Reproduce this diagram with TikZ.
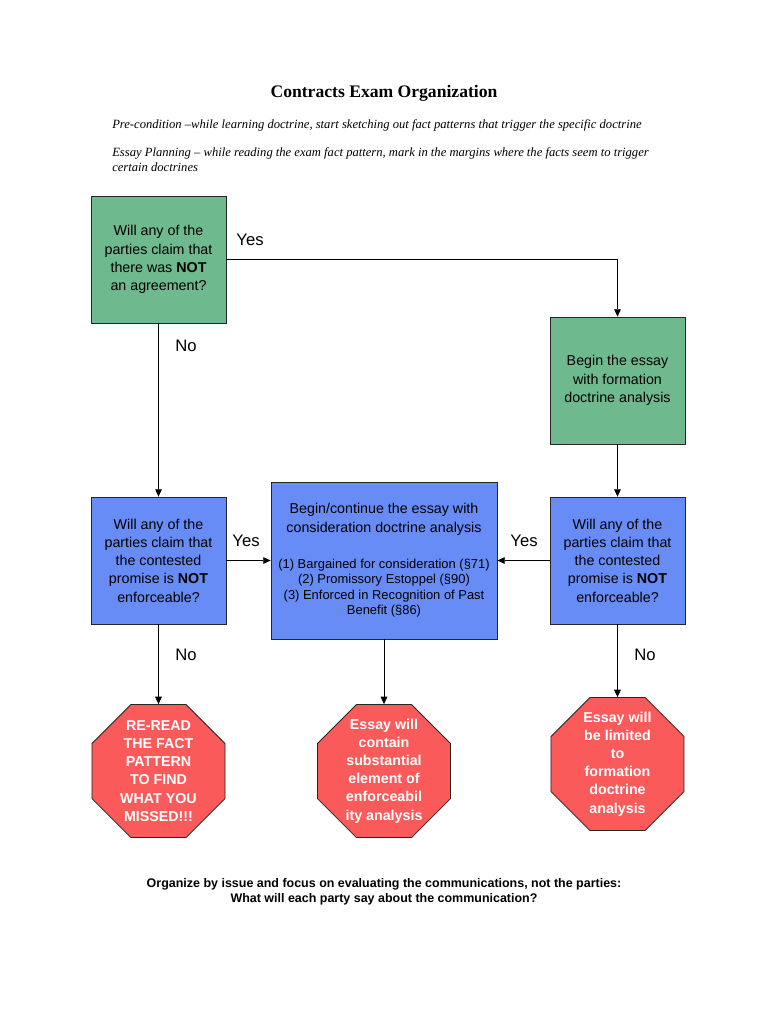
\documentclass[tikz,border=0pt]{standalone}
\usepackage{fontspec}
\setmainfont{Liberation Serif}
\setsansfont{Liberation Sans}
\usetikzlibrary{arrows.meta,shapes.geometric}
\definecolor{formgreen}{RGB}{110,185,142}
\definecolor{enfblue}{RGB}{104,140,245}
\definecolor{stopred}{RGB}{250,90,90}
\newcommand{\lstfont}{\fontsize{9.7}{11.6}\selectfont}

\begin{document}
\begin{tikzpicture}[x=0.75pt, y=-0.75pt,
  box/.style = {draw=black!85, line width=0.6pt, align=center,
    font=\sffamily\fontsize{10.7}{13.7}\selectfont, inner sep=2pt},
  greenbox/.style = {box, fill=formgreen, minimum width=101.25pt, minimum height=95.25pt},
  bluebox/.style = {box, fill=enfblue, minimum width=101.25pt, minimum height=95.25pt},
  stop/.style = {draw=black!85, line width=0.6pt, fill=stopred, regular polygon,
    regular polygon sides=8, minimum size=108pt, inner sep=0pt},
  stoptext/.style = {align=center, text=white, font=\sffamily\bfseries\fontsize{10.7}{13.6}\selectfont},
  answer/.style = {font=\sffamily\fontsize{12.5}{14}\selectfont},
  flow/.style = {draw, line width=0.6pt, -{Triangle[length=5.5pt,width=5pt]}}]

  \useasboundingbox (0,0) rectangle (768,1024);

  \node[font=\bfseries\fontsize{13.2}{15}\selectfont] (title) at (384,93) {Contracts Exam Organization};
  \node[anchor=west, font=\itshape\fontsize{9.45}{11.25}\selectfont, inner sep=0pt] (precond) at (112,125)
    {Pre-condition --while learning doctrine, start sketching out fact patterns that trigger the specific doctrine};
  \node[anchor=north west, align=left, font=\itshape\fontsize{9.45}{11.25}\selectfont, inner sep=0pt] (planning) at (112,147)
    {Essay Planning -- while reading the exam fact pattern, mark in the margins where the facts seem to trigger\\certain doctrines};

  \node[greenbox] (agree) at (158.5,259.5) {Will any of the\\parties claim that\\there was \textbf{NOT}\\an agreement?};
  \node[greenbox] (formation) at (617.5,380.5) {Begin the essay\\with formation\\doctrine analysis};
  \node[bluebox] (leftq) at (158.5,560.5) {Will any of the\\parties claim that\\the contested\\promise is \textbf{NOT}\\enforceable?};
  \node[bluebox] (rightq) at (617.5,560.5) {Will any of the\\parties claim that\\the contested\\promise is \textbf{NOT}\\enforceable?};
  \node[box, fill=enfblue, minimum width=169.5pt, minimum height=117.75pt] (consid) at (384,560.5)
    {Begin/continue the essay with\\consideration doctrine analysis\\[13.5pt]
     \lstfont (1) Bargained for consideration (§71)\\[-2.1pt]\lstfont (2) Promissory Estoppel (§90)\\[-2.1pt]
     \lstfont (3) Enforced in Recognition of Past\\[-2.1pt]\lstfont Benefit (§86)};

  \node[stop] (reread) at (158.5,771) {};
  \node[stoptext] (rereadtxt) at (reread) {RE-READ\\THE FACT\\PATTERN\\TO FIND\\WHAT YOU\\MISSED!!!};
  \node[stop] (subst) at (384,771) {};
  \node[stoptext] (substtxt) at (subst) {Essay will\\contain\\substantial\\element of\\enforceabil\\ity analysis};
  \node[stop] (limited) at (617.5,764) {};
  \node[stoptext] (limitedtxt) at (limited) {Essay will\\be limited\\to\\formation\\doctrine\\analysis};

  \draw[flow] (agree.east) -| (formation.north);
  \draw[flow] (agree) -- (leftq);
  \draw[flow] (formation) -- (rightq);
  \draw[flow] (leftq) -- (consid);
  \draw[flow] (rightq) -- (consid);
  \draw[flow] (leftq) -- (reread);
  \draw[flow] (consid) -- (subst);
  \draw[flow] (rightq) -- (limited);

  \node[answer] (yestop) at (250,240) {Yes};
  \node[answer] (notop) at (186,346) {No};
  \node[answer] (yesleft) at (246,541) {Yes};
  \node[answer] (yesright) at (524,541) {Yes};
  \node[answer] (noleft) at (186,655) {No};
  \node[answer] (noright) at (645,655) {No};

  \node[align=center, font=\sffamily\bfseries\fontsize{9.35}{11.25}\selectfont] (advice) at (384,892)
    {Organize by issue and focus on evaluating the communications, not the parties:\\What will each party say about the communication?};
\end{tikzpicture}
\end{document}
